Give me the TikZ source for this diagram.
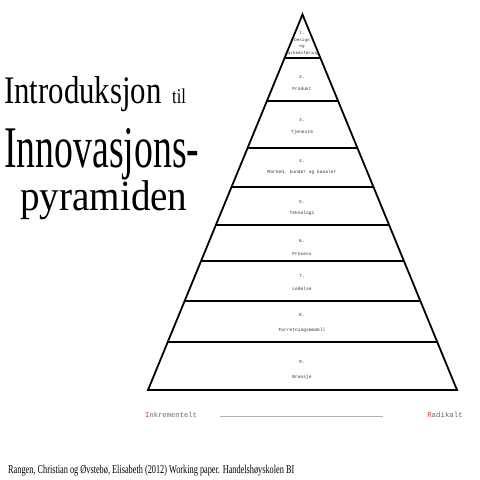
\documentclass[tikz,border=0pt]{standalone}
\usepackage{fontspec}
\usetikzlibrary{calc}
\newfontfamily\titlefont{Liberation Serif}
\newfontfamily\pyrfont{Liberation Mono}
\definecolor{scalegray}{RGB}{105,105,105}
\definecolor{initred}{RGB}{195,60,60}
\begin{document}
\begin{tikzpicture}[x=1pt,y=-1pt]
  \tikzset{level/.style={font=\pyrfont\fontsize{4.6}{#1}\selectfont, text=black!80, align=center, inner sep=0pt},
           band/.style={line width=1.8pt},
           heading/.style={anchor=base west, inner sep=0pt, font=\titlefont}}
  \useasboundingbox (0,0) rectangle (480,480);

  % pyramid
  \coordinate (top) at (302.5,14.5);
  \coordinate (bl) at (148,390);
  \coordinate (br) at (457,390);
  \draw[band, line join=miter] (bl) -- (top) -- (br) -- cycle;
  \foreach \y [count=\i] in {58,101,148,187,225,261,301,342} {
    \coordinate (l\i) at ($(top)!{(\y-14.5)/375.5}!(bl)$);
    \coordinate (r\i) at ($(top)!{(\y-14.5)/375.5}!(br)$);
    \draw[band] (l\i) -- (r\i);
  }

  \node[level=6.7, font=\pyrfont\fontsize{4.2}{6.7}\selectfont] at (302,43.5) (lev1) {1.\\Design\\og\\markedsføring};
  \node[level=12] at (302,82.5) (lev2) {2.\\Produkt};
  \node[level=12] at (302,126.5) (lev3) {3.\\Tjeneste};
  \node[level=11] at (302,167) (lev4) {4.\\Marked, kunder og kanaler};
  \node[level=11] at (302,208) (lev5) {5.\\Teknologi};
  \node[level=13] at (302,247) (lev6) {6.\\Prosess};
  \node[level=13] at (302,283) (lev7) {7.\\Ledelse};
  \node[level=15] at (302,323) (lev8) {8.\\Forretningsmodell};
  \node[level=15] at (302,370) (lev9) {9.\\Bransje};

  % scale below
  \node[anchor=west, inner sep=0pt, text=scalegray, font=\pyrfont\fontsize{7.2}{8}\selectfont] at (145,415) (ink) {\textcolor{initred}{I}nkrementelt};
  \node[anchor=east, inner sep=0pt, text=scalegray, font=\pyrfont\fontsize{7.4}{8}\selectfont] at (463,415) (rad) {\textcolor{initred}{R}adikalt};
  \coordinate (sl) at (220,416);
  \coordinate (sr) at (383,416);
  \draw[black!30, line width=0.8pt] (sl) -- (sr);

  % title
  \node[heading, font=\titlefont\fontsize{39}{39}\selectfont] at (4,103) (intro) {\scalebox{0.79}[1]{Introduksjon}};
  \node[heading, font=\titlefont\fontsize{21}{21}\selectfont] at (172,103) (til) {\scalebox{0.79}[1]{til}};
  \node[heading, font=\titlefont\fontsize{59}{59}\selectfont] at (4,167) (innov) {\scalebox{0.64}[1]{Innovasjons-}};
  \node[heading, font=\titlefont\fontsize{43}{43}\selectfont] at (20,210) (pyr) {\scalebox{0.91}[1]{pyramiden}};

  % source
  \node[heading, font=\titlefont\fontsize{12}{12}\selectfont] at (8,473) (src) {\scalebox{0.69}[1]{Rangen, Christian og Øvstebø, Elisabeth (2012) Working paper. Handelshøyskolen BI}};
\end{tikzpicture}
\end{document}
